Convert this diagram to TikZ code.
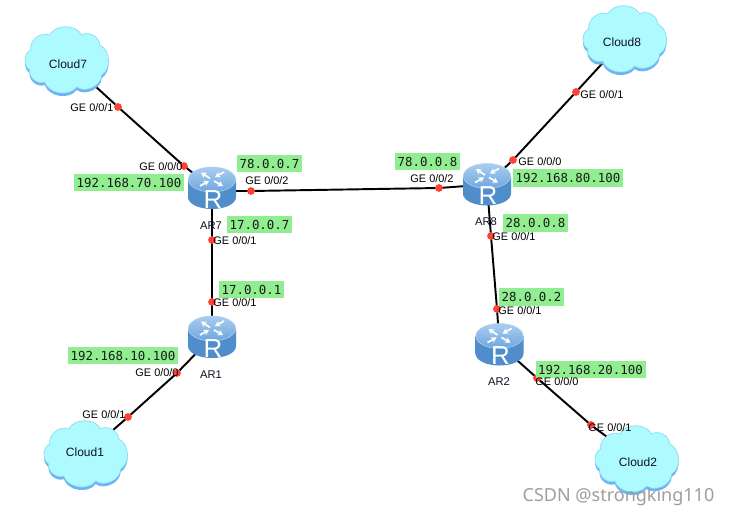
\documentclass[tikz,border=0pt]{standalone}
\usepackage{fontspec}
\setmainfont{Liberation Sans}
\newfontfamily\ipfont{DejaVu Sans Mono}
\newfontfamily\wmfont{Noto Sans}
\usetikzlibrary{arrows.meta}
\pgfdeclarelayer{bg}\pgfdeclarelayer{fg}
\pgfsetlayers{bg,main,fg}
\definecolor{ipgreen}{HTML}{90EE90}
\definecolor{dotred}{HTML}{FF4034}
\definecolor{cloudfill}{HTML}{AEFBFF}
\definecolor{cloudedge}{HTML}{8CD8F8}
\definecolor{cloudshadow}{HTML}{6FB4F2}
\definecolor{rdark}{HTML}{4F8DCB}
\definecolor{rmid}{HTML}{93C5F0}
\definecolor{rtopa}{HTML}{A9CDF0}
\definecolor{rtopb}{HTML}{6FA6DE}
\definecolor{rrim}{HTML}{B4D4F2}
\definecolor{inktext}{HTML}{101028}
\newcommand{\cloudoutline}{(-36,-10) to[bend left=62] (-17,-25) to[bend left=62] (15,-25) to[bend left=62] (33,-15) to[bend left=62] (35,15) to[bend left=62] (10,27) to[bend left=62] (-22,22) to[bend left=62] (-37,10) to[bend left=62] cycle}
\tikzset{
  x=0.75pt,y=-0.75pt,
  anchorbox/.style={inner sep=0pt,minimum width=36pt,minimum height=31pt},
  ip/.style={fill=ipgreen,inner sep=0pt,minimum width=#1,minimum height=12.9pt,font=\ipfont\fontsize{9.3}{10}\selectfont,text=black!90},
  ip/.default=48.8pt,
  iplong/.style={ip=82.5pt},
  ge/.style={inner sep=0pt,font=\fontsize{8.2}{9}\selectfont,text=black},
  devname/.style={inner sep=0pt,font=\fontsize{8.4}{9}\selectfont,text=inktext},
  cloudname/.style={inner sep=0pt,font=\fontsize{9}{10}\selectfont,text=inktext},
  port/.style={circle,fill=dotred,inner sep=0pt,minimum size=5.8pt},
  link/.style={line width=1.45pt,black},
  rarrow/.style={white,line width=1.3pt,-{Stealth[length=4pt,width=4.6pt]}},
  routericon/.pic={
    \path[left color=rdark,middle color=rmid,right color=rdark]
      (-24,-8.5) -- (-24,9) .. controls (-24,16) and (-13,21) .. (0,21)
      .. controls (13,21) and (24,16) .. (24,9) -- (24,-8.5) -- cycle;
    \path[top color=rtopa,bottom color=rtopb,draw=rrim,line width=0.4pt] (0,-8.5) ellipse[x radius=23.7,y radius=12.5];
    \draw[rarrow] (-2,-9.5) -- (-11,-15.5);
    \draw[rarrow] (12,-16) -- (3,-11);
    \draw[rarrow] (-12,-2) -- (-3,-7);
    \draw[rarrow] (2,-7) -- (11,-2);
    \node[inner sep=0pt,text=white,font=\fontsize{19.5}{20}\selectfont] (-r) at (1,11.5) {R};
  },
  cloudicon/.pic={
    \path[fill=cloudshadow] [shift={(0,3)}] \cloudoutline;
    \path[fill=cloudfill,draw=cloudedge,line width=0.5pt] \cloudoutline;
  }
}
\begin{document}
\begin{tikzpicture}
\useasboundingbox (0,0) rectangle (729,517);

% router and cloud anchors
\node[anchorbox] (ar7) at (212,188) {};
\node[anchorbox] (ar8) at (487,184.5) {};
\node[anchorbox] (ar1) at (212,337) {};
\node[anchorbox] (ar2) at (499.5,344.5) {};
\node[anchorbox] (c7) at (66.7,60) {};
\node[anchorbox] (c8) at (624.7,39) {};
\node[anchorbox] (c1) at (85.7,454) {};
\node[anchorbox] (c2) at (636.7,459) {};

% ports
\node[port] (p7c) at (118,107) {};
\node[port] (p7a) at (184,166) {};
\node[port] (p7b) at (251,191) {};
\node[port] (p7d) at (212,240) {};
\node[port] (p8b) at (439,188) {};
\node[port] (p8a) at (513,160) {};
\node[port] (p8d) at (491,236) {};
\node[port] (p8c) at (576,92) {};
\node[port] (p1d) at (212,302) {};
\node[port] (p1a) at (177,373) {};
\node[port] (p1c) at (128,417) {};
\node[port] (p2d) at (497,309) {};
\node[port] (p2a) at (537,378) {};
\node[port] (p2c) at (591,425) {};

% connectors
\begin{pgfonlayer}{bg}
\fill[white] (0,0) rectangle (729,517);
\draw[link] (c7.center) -- (p7c.center) -- (p7a.center) -- (ar7.center);
\draw[link] (ar7.center) ++(0,3) -- (p7b.center) -- (p8b.center) -- (ar8.center);
\draw[link] (ar7.center) -- (p7d.center) -- (p1d.center) -- (ar1.center);
\draw[link] (c8.center) -- (p8c.center) -- (p8a.center) -- (ar8.center);
\draw[link] (ar8.center) -- (p8d.center) -- (p2d.center) -- (ar2.center);
\draw[link] (ar1.center) -- (p1a.center) -- (p1c.center) -- (c1.center);
\draw[link] (ar2.center) -- (p2a.center) -- (p2c.center) -- (c2.center);
\end{pgfonlayer}

% icons
\pic (i7) at (ar7.center) {routericon};
\pic (i8) at (ar8.center) {routericon};
\pic (i1) at (ar1.center) {routericon};
\pic (i2) at (ar2.center) {routericon};
\pic (k7) at (c7.center) {cloudicon};
\pic (k8) at (c8.center) {cloudicon};
\pic (k1) at (c1.center) {cloudicon};
\pic (k2) at (c2.center) {cloudicon};

\begin{pgfonlayer}{fg}
% cloud and router names
\node[cloudname] (t7) at (68,64) {Cloud7};
\node[cloudname] (t8) at (622,42) {Cloud8};
\node[cloudname] (t1) at (85,452) {Cloud1};
\node[cloudname] (t2) at (638,462) {Cloud2};
\node[devname] (n7) at (211,226) {AR7};
\node[devname] (n8) at (486,222) {AR8};
\node[devname] (n1) at (211,375) {AR1};
\node[devname] (n2) at (499,382) {AR2};

% green address tags
\node[iplong] (a1) at (129,182.5) {192.168.70.100};
\node[ip] (a2) at (269.5,163.5) {78.0.0.7};
\node[ip] (a3) at (259.5,224.5) {17.0.0.7};
\node[ip] (a4) at (427.5,161.5) {78.0.0.8};
\node[iplong] (a5) at (568,178) {192.168.80.100};
\node[ip] (a6) at (535.5,223) {28.0.0.8};
\node[ip] (a7) at (251.5,289.5) {17.0.0.1};
\node[iplong] (a8) at (123,355.5) {192.168.10.100};
\node[ip] (a9) at (531.5,297) {28.0.0.2};
\node[iplong] (a10) at (590.5,369.5) {192.168.20.100};

% interface labels
\node[ge] (g1) at (92,108) {GE 0/0/1};
\node[ge] (g2) at (161,167) {GE 0/0/0};
\node[ge] (g3) at (267,181) {GE 0/0/2};
\node[ge] (g4) at (235,241) {GE 0/0/1};
\node[ge] (g5) at (602,95) {GE 0/0/1};
\node[ge] (g6) at (540,162) {GE 0/0/0};
\node[ge] (g7) at (432,179) {GE 0/0/2};
\node[ge] (g8) at (514,237) {GE 0/0/1};
\node[ge] (g9) at (235,303) {GE 0/0/1};
\node[ge] (g10) at (157,373) {GE 0/0/0};
\node[ge] (g11) at (104,415) {GE 0/0/1};
\node[ge] (g12) at (520,311) {GE 0/0/1};
\node[ge] (g13) at (557,382) {GE 0/0/0};
\node[ge] (g14) at (610,428) {GE 0/0/1};

% watermark
\node[inner sep=0pt,text=black!38,font=\wmfont\fontsize{13.5}{15}\selectfont] (wm) at (618.5,497) {CSDN @strongking110};
\end{pgfonlayer}
\end{tikzpicture}
\end{document}
